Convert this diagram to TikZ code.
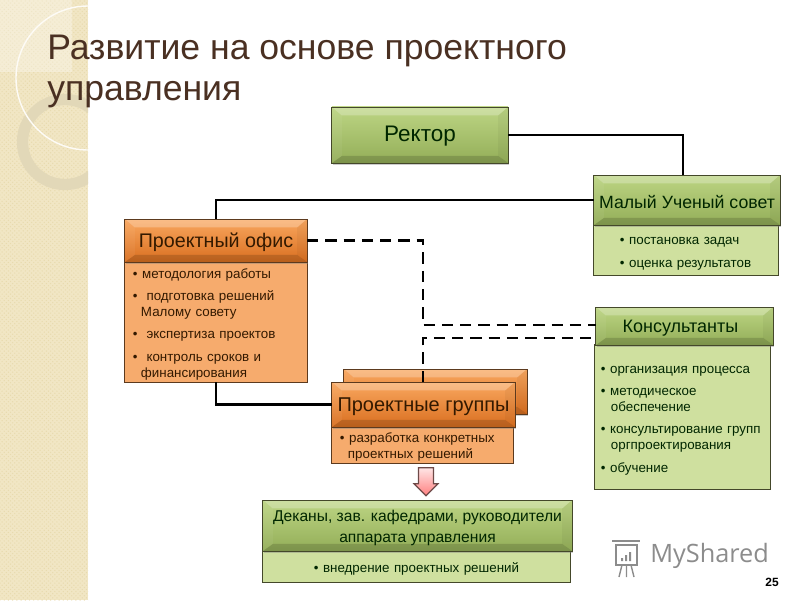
\documentclass[tikz,border=0pt]{standalone}
\usepackage{fontspec}
\setmainfont{Liberation Sans}
\newfontfamily\markfont{Open Sans}
\usetikzlibrary{shadows,patterns,shapes.arrows}

\definecolor{panelbeige}{HTML}{F1E6C4}
\definecolor{paneldot}{HTML}{E8DAAE}
\definecolor{panelring}{HTML}{E2D8B8}
\definecolor{titlebrown}{HTML}{4A3022}
\definecolor{greenline}{HTML}{44482A}
\definecolor{orangeline}{HTML}{5C3A1E}
\definecolor{greenbody}{HTML}{CFE09F}
\definecolor{orangebody}{HTML}{F6AB6D}
\definecolor{greentop}{HTML}{BDD584}
\definecolor{greenmid}{HTML}{ADC771}
\definecolor{greenlow}{HTML}{93AE58}
\definecolor{orangetop}{HTML}{F9A75F}
\definecolor{orangemid}{HTML}{F08A35}
\definecolor{orangelow}{HTML}{D96F20}
\definecolor{arrowline}{HTML}{6E4A48}

\tikzset{
    bevel/.style={
        path picture={
            \fill[white,opacity=0.25] (path picture bounding box.north west) -- (path picture bounding box.north east)
                -- ([xshift=-7pt,yshift=-6pt]path picture bounding box.north east) -- ([xshift=7pt,yshift=-6pt]path picture bounding box.north west) -- cycle;
            \fill[black,opacity=0.15] (path picture bounding box.south west) -- (path picture bounding box.south east)
                -- ([xshift=-7pt,yshift=5pt]path picture bounding box.south east) -- ([xshift=7pt,yshift=5pt]path picture bounding box.south west) -- cycle;
            \fill[white,opacity=0.05] (path picture bounding box.north west) -- (path picture bounding box.south west)
                -- ([xshift=7pt,yshift=5pt]path picture bounding box.south west) -- ([xshift=7pt,yshift=-6pt]path picture bounding box.north west) -- cycle;
            \fill[black,opacity=0.04] (path picture bounding box.north east) -- (path picture bounding box.south east)
                -- ([xshift=-7pt,yshift=5pt]path picture bounding box.south east) -- ([xshift=-7pt,yshift=-6pt]path picture bounding box.north east) -- cycle;
        }},
    headbox/.style={rectangle, outer sep=0pt, inner sep=0pt, align=center, bevel, line width=0.7pt, text height=12.5pt,
        font=\fontsize{14}{16.5}\selectfont,
        drop shadow={shadow xshift=0.3mm, shadow yshift=-0.6mm, opacity=0.4}},
    greenhead/.style={headbox, draw=greenline, text=black!85!green, top color=greentop, middle color=greenmid, bottom color=greenlow},
    orangehead/.style={headbox, draw=orangeline, text=black!80!orange, top color=orangetop, middle color=orangemid, bottom color=orangelow},
    bodybox/.style={rectangle, outer sep=0pt, inner xsep=0.15cm, inner ysep=0pt, align=left, line width=0.7pt, text height=10pt,
        font=\fontsize{9.5}{11.4}\selectfont},
    greenlist/.style={bodybox, draw=greenline, fill=greenbody, text=black!85!green},
    orangelist/.style={bodybox, draw=orangeline, fill=orangebody, text=black!80!orange},
    link/.style={line width=1.5pt},
    dashlink/.style={line width=1.5pt, dash pattern=on 8pt off 5pt},
}

\begin{document}
\begin{tikzpicture}[x=0.025cm,y=-0.025cm]
    \useasboundingbox (0,0) rectangle (800,600);

    % Decorative left panel
    \fill[panelbeige] (0,0) rectangle (88,600);
    \fill[pattern=crosshatch dots, pattern color=paneldot] (0,0) rectangle (88,600);
    \fill[white,opacity=0.3] (0,0) rectangle (72,72);
    \begin{scope}
        \clip (0,0) rectangle (88,600);
        \draw[line width=8pt, color=panelring] (65,142) circle (42.5);
        \draw[line width=1pt, color=white!85!panelbeige] (88,78) circle (72);
    \end{scope}

    % Title
    \node[anchor=north west, align=left, inner sep=0pt, text=titlebrown, font=\fontsize{25.3}{29}\selectfont] (title) at (47,34.5)
        {Развитие на основе проектного\\управления};

    % Top boxes
    \node[greenhead, minimum width=4.4cm, minimum height=1.4cm, font=\fontsize{16}{18}\selectfont, text height=13pt] (rector) at (420,135) {Ректор};
    \node[greenlist, minimum height=1.25cm, text width=4.3cm] (councilbody) at (686,250)
        {\hspace*{0.5cm}• постановка задач\\[5pt]\hspace*{0.5cm}• оценка результатов};
    \node[greenhead, minimum width=4.65cm, minimum height=1.25cm, font=\fontsize{12.6}{15}\selectfont] (council) at (687,200) {Малый Ученый совет};

    % Project office
    \node[orangelist, minimum height=3cm, text width=4.25cm] (officebody) at (216,322)
        {\hspace*{0.05cm}• методология работы\\[4.5pt]
        \hspace*{0.05cm}•\ \ подготовка решений\\\hspace*{0.25cm}Малому совету\\[4.5pt]
        \hspace*{0.05cm}•\ \ экспертиза проектов\\[4.5pt]
        \hspace*{0.05cm}•\ \ контроль сроков и\\\hspace*{0.25cm}финансирования};
    \node[orangehead, minimum width=4.55cm, minimum height=1.075cm] (office) at (216,240.5) {Проектный офис};

    % Consultants
    \node[greenlist, minimum height=3.6cm, text width=4.075cm] (consbody) at (682.5,417)
        {• организация процесса\\[4.5pt]
        • методическое\\\hspace*{0.25cm}обеспечение\\[4.5pt]
        • консультирование групп\\\hspace*{0.25cm}оргпроектирования\\[4.5pt]
        • обучение};
    \node[greenhead, minimum width=4.425cm, minimum height=0.95cm, font=\fontsize{12.8}{15}\selectfont] (cons) at (684.5,326) {\hspace*{-0.2cm}Консультанты};

    % Project groups
    \node[orangehead, minimum width=4.575cm, minimum height=1.125cm] (groupsback) at (435.5,391.5) {};
    \node[orangelist, minimum height=0.9cm, text width=4.225cm] (groupsbody) at (422.5,445)
        {\hspace*{0.05cm}• разработка конкретных\\\hspace*{0.25cm}проектных решений};
    \node[orangehead, minimum width=4.575cm, minimum height=1.125cm, font=\fontsize{14.2}{16.5}\selectfont] (groups) at (423.5,404.5) {Проектные группы};

    % Deans
    \node[greenlist, minimum height=0.775cm, text width=7.375cm, align=center] (deansbody) at (416.5,566.5) {• внедрение проектных решений};
    \node[greenhead, minimum width=7.725cm, minimum height=1.275cm, font=\fontsize{11.1}{15}\selectfont, text height=27pt] (deans) at (417.5,525.5)
        {Деканы, зав. кафедрами, руководители\\аппарата управления};
    \node[single arrow, draw=arrowline, top color=red!10!white, bottom color=red!50!white, shape border rotate=270,
        minimum height=0.7cm, minimum width=0.6cm, single arrow head extend=0.11cm, inner sep=0.17cm, outer sep=0pt, line width=0.8pt] (down) at (426,478) {};

    % Solid links
    \coordinate (councilin) at (683,175);
    \draw[link] (rector.east) -| (councilin);
    \draw[link] (council.west) -| (office.north);
    \draw[link] (officebody.south) |- (groups.west);

    % Dashed links
    \coordinate (dashupper) at (423,325);
    \coordinate (dashlower) at (423,338);
    \draw[dashlink] (office.east) -| (dashupper) -- (dashupper -| cons.west);
    \draw[dashlink] (dashlower |- groups.north) -- (dashlower) -- (dashlower -| cons.west);

    % Watermark
    \begin{scope}[draw=gray!90, line width=1pt]
        \draw (612,541) -- (640,541);
        \draw (616,545) rectangle (637,565);
        \fill[gray!90] (621,558) rectangle (623,561) (625,555) rectangle (627,561) (629,552) rectangle (631,561);
        \draw (622,565) -- (619,577) (626.5,565) -- (626.5,577) (631,565) -- (634,577);
    \end{scope}
    \node[anchor=west, inner sep=0pt, text=gray!90, font=\markfont\fontsize{18}{20}\selectfont] (mark) at (650,556) {MyShared};

    % Slide number
    \node[inner sep=0pt, font=\bfseries\fontsize{8.5}{10}\selectfont] (slidenum) at (772,582) {25};
\end{tikzpicture}
\end{document}
